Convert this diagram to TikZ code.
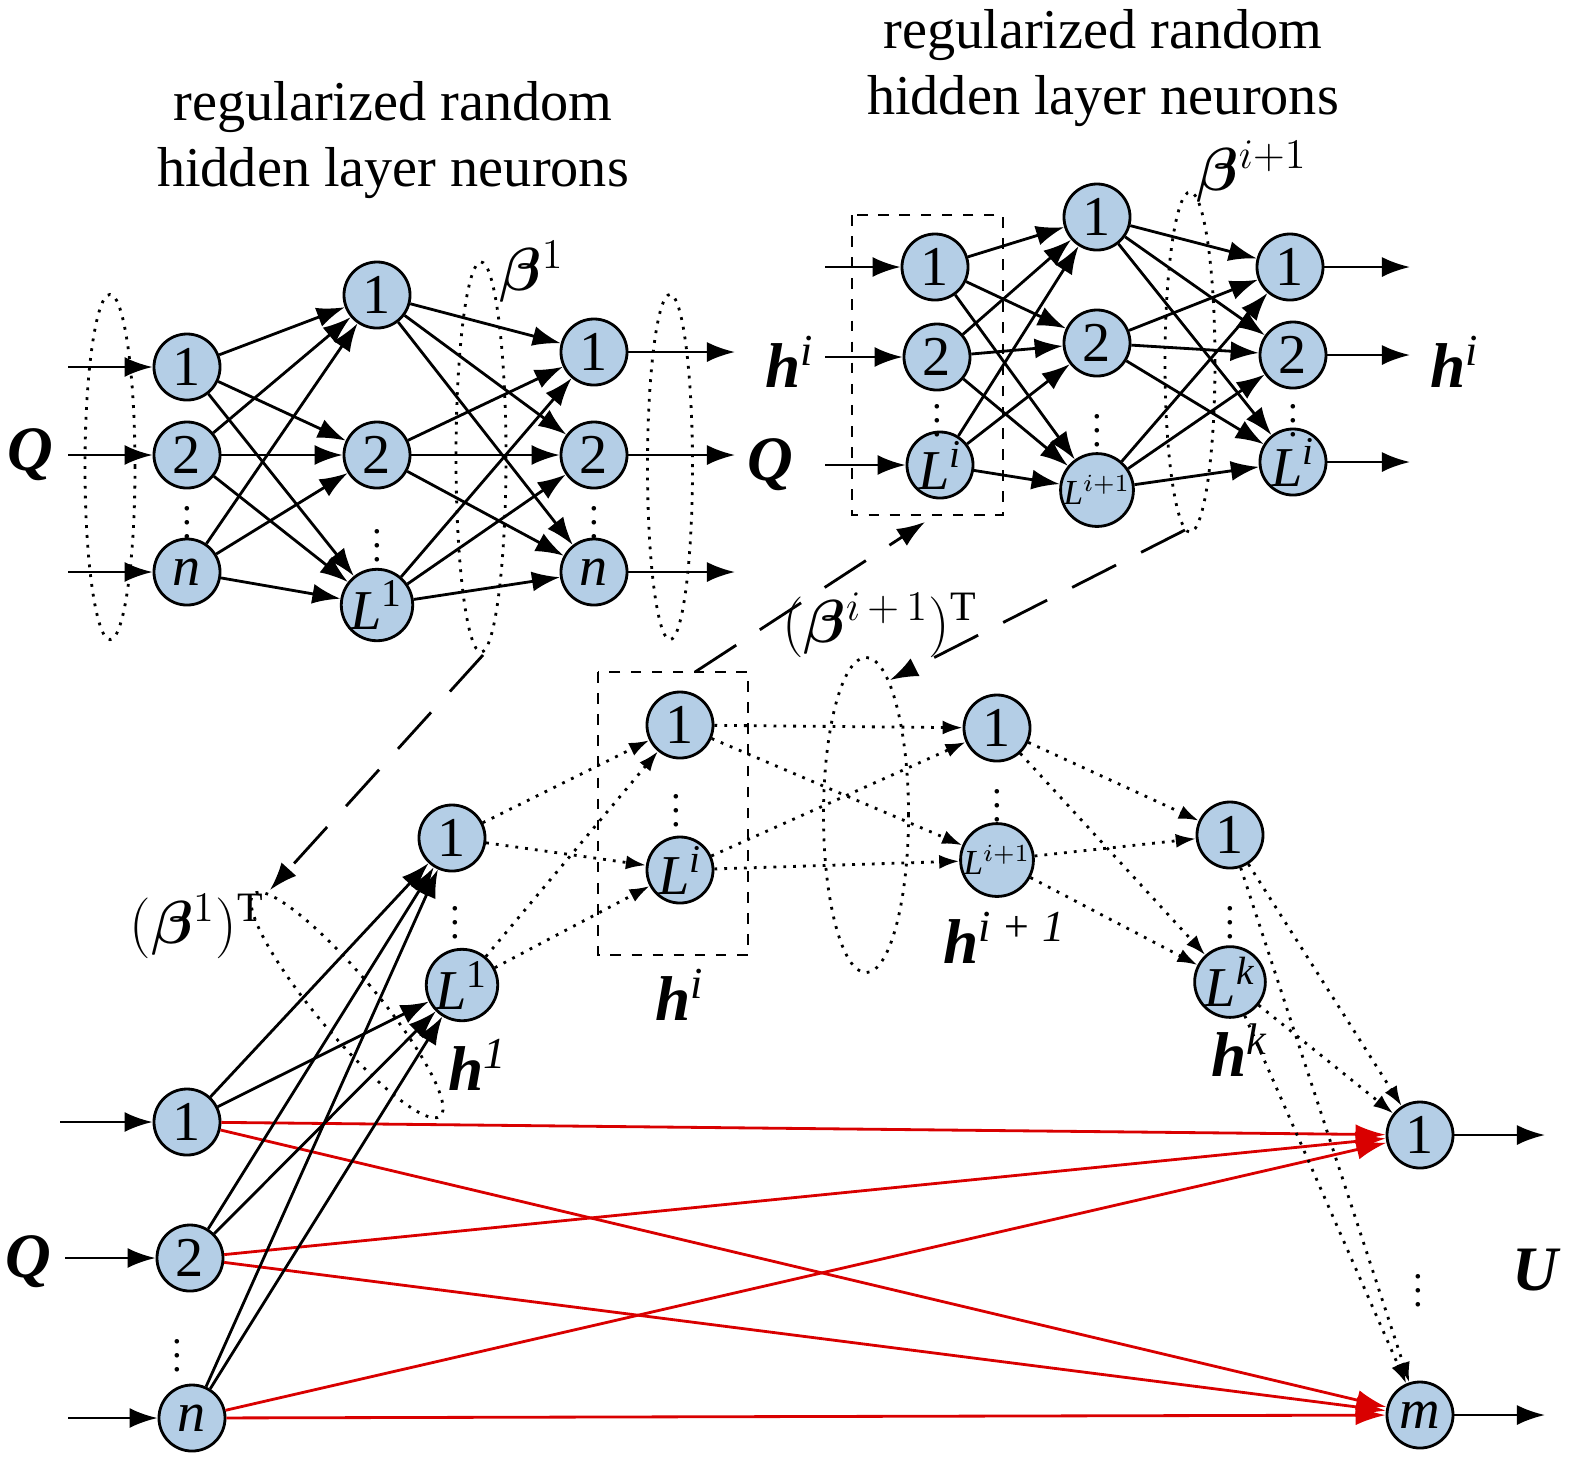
\documentclass[tikz,border=0pt]{standalone}
\usepackage{fontspec}
\usepackage{amsmath,bm}
\setmainfont{Liberation Serif}
\usetikzlibrary{arrows.meta,shapes.geometric}
\begin{document}
\begin{tikzpicture}[x=0.01cm,y=-0.01cm,
 nd/.style={circle,draw,thick,fill={rgb,255:red,180;green,206;blue,230},minimum size=0.66cm,inner sep=0pt,font=\fontsize{16}{16}\selectfont\itshape},
 ar/.style={thick,-{Latex[length=0.28cm,width=0.2cm]}},
 dt/.style={thick,dotted,-{Latex[length=0.2cm,width=0.14cm]}},
 rd/.style={thick,red!85!black,-{Latex[length=0.3cm,width=0.2cm]}},
 el/.style={draw,thick,dotted,ellipse},
 lb/.style={font=\fontsize{18}{18}\selectfont\bfseries\itshape},
 tt/.style={font=\fontsize{16}{19}\selectfont,align=center},
 bb/.style={font=\fontsize{17}{17}\selectfont},
 dd/.style={font=\fontsize{11}{11}\selectfont}]
\useasboundingbox (0,0) rectangle (1575,1459);
% ---------- top-left
\node[tt] (t1) at (393,140) {regularized random\\hidden layer neurons};
\node[nd] (a1) at (187,367) {\upshape 1};
\node[nd] (a2) at (187,455) {\upshape 2};
\node[nd] (a3) at (187,572) {n};
\node[dd] at (187,512) {$\vdots$};
\node[nd] (b1) at (377,295) {\upshape 1};
\node[nd] (b2) at (377,455) {\upshape 2};
\node[nd] (b3) at (377,605) {L\textsuperscript{\upshape 1}};
\node[dd] at (377,535) {$\vdots$};
\node[nd] (c1) at (594,352) {\upshape 1};
\node[nd] (c2) at (594,455) {\upshape 2};
\node[nd] (c3) at (594,572) {n};
\node[dd] at (594,512) {$\vdots$};
\foreach \i in {1,2,3}{\foreach \j in {1,2,3}{\draw[ar] (a\i) -- (b\j); \draw[ar] (b\i) -- (c\j);}}
\coordinate (ia1) at (68,367); \coordinate (ia2) at (68,455); \coordinate (ia3) at (68,572);
\coordinate (oc1) at (735,352); \coordinate (oc2) at (735,455); \coordinate (oc3) at (735,572);
\foreach \i in {1,2,3}{\draw[ar] (ia\i) -- (a\i); \draw[ar] (c\i) -- (oc\i);}
\node[lb] (q1) at (30,455) {Q};
\node[el,minimum width=0.5cm,minimum height=3.45cm] (e1) at (110,467) {};
\node[el,minimum width=0.5cm,minimum height=3.9cm] (e2) at (481,457) {};
\node[el,minimum width=0.45cm,minimum height=3.45cm] (e3) at (670,467) {};
\node[bb] (bl1) at (532,272) {$\bm{\beta}^{1}$};
% ---------- top-right
\node[tt] (t2) at (1103,68) {regularized random\\hidden layer neurons};
\node[nd] (p1) at (935,267) {\upshape 1};
\node[nd] (p2) at (937,357) {\upshape 2};
\node[nd] (p3) at (940,465) {L\textsuperscript{i}};
\node[dd] at (937,410) {$\vdots$};
\draw[thick,dashed] (852,215) rectangle (1003,515);
\node[nd] (r1) at (1097,217) {\upshape 1};
\node[nd] (r2) at (1097,343) {\upshape 2};
\node[nd,font=\fontsize{10}{10}\selectfont\itshape] (r3) at (1097,490) {L$^{i+1}$};
\node[dd] at (1097,420) {$\vdots$};
\node[nd] (s1) at (1290,267) {\upshape 1};
\node[nd] (s2) at (1293,355) {\upshape 2};
\node[nd] (s3) at (1293,462) {L\textsuperscript{i}};
\node[dd] at (1293,410) {$\vdots$};
\foreach \i in {1,2,3}{\foreach \j in {1,2,3}{\draw[ar] (p\i) -- (r\j); \draw[ar] (r\i) -- (s\j);}}
\coordinate (ip1) at (825,267); \coordinate (ip2) at (825,357); \coordinate (ip3) at (825,465);
\coordinate (os1) at (1410,267); \coordinate (os2) at (1410,355); \coordinate (os3) at (1410,462);
\foreach \i in {1,2,3}{\draw[ar] (ip\i) -- (p\i); \draw[ar] (s\i) -- (os\i);}
\node[lb] (hl) at (790,362) {h\textsuperscript{\mdseries i}};
\node[lb] (q2) at (770,465) {Q};
\node[lb] (hr) at (1455,362) {h\textsuperscript{\mdseries i}};
\node[el,minimum width=0.5cm,minimum height=3.4cm] (e4) at (1190,362) {};
\node[bb] (bl2) at (1252,172) {$\bm{\beta}^{i+1}$};
% ---------- bottom
\node[nd] (x1) at (187,1122) {\upshape 1};
\node[nd] (x2) at (190,1258) {\upshape 2};
\node[nd] (x3) at (192,1418) {n};
\node[dd] at (177,1345) {$\vdots$};
\node[nd] (h1) at (452,838) {\upshape 1};
\node[nd] (h2) at (462,985) {L\textsuperscript{\upshape 1}};
\node[dd] at (455,912) {$\vdots$};
\node[nd] (g1) at (680,725) {\upshape 1};
\node[nd] (g2) at (680,870) {L\textsuperscript{i}};
\node[dd] at (676,800) {$\vdots$};
\draw[thick,dashed] (598,672) rectangle (748,955);
\node[nd] (k1) at (997,728) {\upshape 1};
\node[nd,font=\fontsize{10}{10}\selectfont\itshape] (k2) at (997,860) {L$^{i+1}$};
\node[dd] at (997,795) {$\vdots$};
\node[nd] (m1) at (1230,835) {\upshape 1};
\node[nd] (m2) at (1230,982) {L\textsuperscript{k}};
\node[dd] at (1230,912) {$\vdots$};
\node[nd] (u1) at (1420,1135) {\upshape 1};
\node[nd] (u2) at (1420,1415) {m};
\node[dd] at (1418,1280) {$\vdots$};
\foreach \i in {1,2,3}{\foreach \j in {1,2}{\draw[ar] (x\i) -- (h\j); \draw[rd] (x\i) -- (u\j);}}
\foreach \i in {1,2}{\foreach \j in {1,2}{\draw[dt] (h\i) -- (g\j); \draw[dt] (g\i) -- (k\j); \draw[dt] (k\i) -- (m\j); \draw[dt] (m\i) -- (u\j);}}
\coordinate (ix1) at (60,1122); \coordinate (ix2) at (65,1258); \coordinate (ix3) at (68,1418);
\foreach \i in {1,2,3}{\draw[ar] (ix\i) -- (x\i);}
\coordinate (ou1) at (1545,1135); \coordinate (ou2) at (1545,1415);
\foreach \i in {1,2}{\draw[ar] (u\i) -- (ou\i);}
\node[lb] (q3) at (28,1262) {Q};
\node[lb] (uu) at (1535,1270) {U};
\node[lb] (lh1) at (478,1065) {h\textsuperscript{\mdseries 1}};
\node[lb] (lhi) at (680,995) {h\textsuperscript{\mdseries i}};
\node[lb] (lhk) at (1240,1050) {h\textsuperscript{\mdseries k}};
\node[lb] (lhj) at (1005,938) {h\textsuperscript{\mdseries i + 1}};
\node[el,minimum width=0.6cm,minimum height=2.9cm,rotate=40] (e5) at (347,1005) {};
\node[bb] (bt1) at (197,926) {$(\bm{\beta}^{1})^{\mathrm{T}}$};
\node[el,minimum width=0.85cm,minimum height=3.15cm] (e6) at (866,815) {};
\node[bb] (bt2) at (880,625) {$(\bm{\beta}^{i\,+\,1})^{\mathrm{T}}$};
% dashed arrows
\coordinate (d1a) at (695,672); \coordinate (d1b) at (925,522);
\coordinate (d2a) at (1185,530); \coordinate (d2b) at (890,680);
\coordinate (d3a) at (483,655); \coordinate (d3b) at (270,890);
\draw[ar,dash pattern=on 14pt off 8pt] (d1a) -- (d1b);
\draw[ar,dash pattern=on 14pt off 8pt] (d2a) -- (d2b);
\draw[ar,dash pattern=on 14pt off 8pt] (d3a) -- (d3b);
\end{tikzpicture}
\end{document}
